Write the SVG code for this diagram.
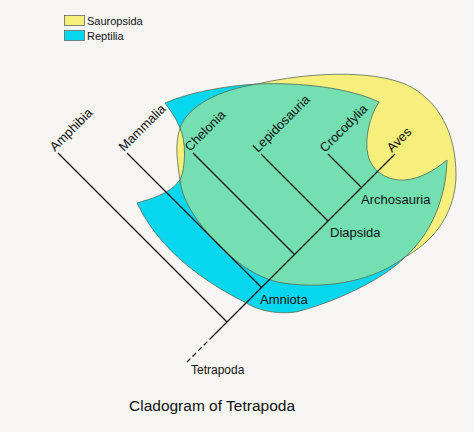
<svg xmlns="http://www.w3.org/2000/svg" xmlns:xlink="http://www.w3.org/1999/xlink" width="474" height="432" viewBox="0 0 474 432">
  <style>
    .lbl { font-family: "Liberation Sans", Arial, sans-serif; font-size: 13px; fill: #111; }
    .small { font-family: "Liberation Sans", Arial, sans-serif; font-size: 11px; fill: #111; }
    .title { font-family: "Liberation Sans", Arial, sans-serif; font-size: 15.5px; fill: #111; }
    .edge { stroke: #111; stroke-width: 1.3; fill: none; }
    .outline { fill: none; stroke: #5a6a55; stroke-width: 0.8; }
  </style>
  <defs>
    <path id="sauropsida" d="M 257,84 C 310,72 370,70 405,84 C 440,100 456,135 456,175 C 456,200 445,235 405,257 C 375,280 330,290 283,283 C 255,279 225,255 205,230 C 192,214 182,198 180,180 C 178,165 174,145 180,128 C 188,105 220,90 257,84 Z"/>
    <path id="reptilia" d="M 165,103 C 190,92 225,86 257,84 C 300,82 350,88 379,102 C 370,115 364,140 368,155 C 372,172 388,181 405,180 C 420,179 435,170 447,160 C 446,200 430,235 405,257 C 385,278 340,300 300,311 C 285,315 262,312 250,305 C 225,292 165,262 137,203 C 150,199 170,194 180,180 C 186,168 186,140 180,128 C 176,118 170,110 165,103 Z"/>
    <clipPath id="reptClip">
      <use xlink:href="#reptilia"/>
    </clipPath>
  </defs>

  <rect x="0" y="0" width="474" height="432" fill="#f7f6f4"/>

  <g id="legend">
    <rect x="64.5" y="15.5" width="20" height="10" fill="#f6ef7c" stroke="#666" stroke-width="0.8"/>
    <text class="small" x="87" y="25">Sauropsida</text>
    <rect x="64.5" y="30.5" width="20" height="10" fill="#06d7ef" stroke="#666" stroke-width="0.8"/>
    <text class="small" x="87" y="40">Reptilia</text>
  </g>

  <g id="sets">
    <use id="sauropsida-fill" xlink:href="#sauropsida" fill="#f6ef7c"/>
    <use id="reptilia-fill" xlink:href="#reptilia" fill="#06d7ef"/>
    <use id="overlap-fill" xlink:href="#sauropsida" fill="#74e0b1" clip-path="url(#reptClip)"/>
    <use xlink:href="#sauropsida" class="outline"/>
    <use xlink:href="#reptilia" class="outline"/>
  </g>

  <g id="connectors">
    <line class="edge" x1="395" y1="154" x2="213" y2="336"/>
    <line class="edge" x1="213" y1="336" x2="186" y2="363" stroke-dasharray="5,3"/>
    <line class="edge" x1="58" y1="153" x2="227" y2="322"/>
    <line class="edge" x1="127" y1="153" x2="261.5" y2="287.5"/>
    <line class="edge" x1="193" y1="153" x2="294.5" y2="254.5"/>
    <line class="edge" x1="261" y1="154" x2="328" y2="221"/>
    <line class="edge" x1="328" y1="154" x2="361.5" y2="187.5"/>
  </g>

  <g id="taxa">
    <g id="amphibia"><text class="lbl" transform="translate(55,152) rotate(-45)">Amphibia</text></g>
    <g id="mammalia"><text class="lbl" transform="translate(124,152) rotate(-45)">Mammalia</text></g>
    <g id="chelonia"><text class="lbl" transform="translate(190,152) rotate(-45)">Chelonia</text></g>
    <g id="lepidosauria"><text class="lbl" transform="translate(258,153) rotate(-45)">Lepidosauria</text></g>
    <g id="crocodylia"><text class="lbl" transform="translate(325,153) rotate(-45)">Crocodylia</text></g>
    <g id="aves"><text class="lbl" transform="translate(392,153) rotate(-45)">Aves</text></g>
  </g>

  <g id="clades">
    <g id="archosauria"><text class="lbl" x="361" y="204">Archosauria</text></g>
    <g id="diapsida"><text class="lbl" x="330" y="237">Diapsida</text></g>
    <g id="amniota"><text class="lbl" x="260" y="304">Amniota</text></g>
    <g id="tetrapoda"><text class="lbl" style="font-size:12px" x="191" y="374">Tetrapoda</text></g>
  </g>

  <text class="title" x="129" y="411">Cladogram of Tetrapoda</text>
</svg>
